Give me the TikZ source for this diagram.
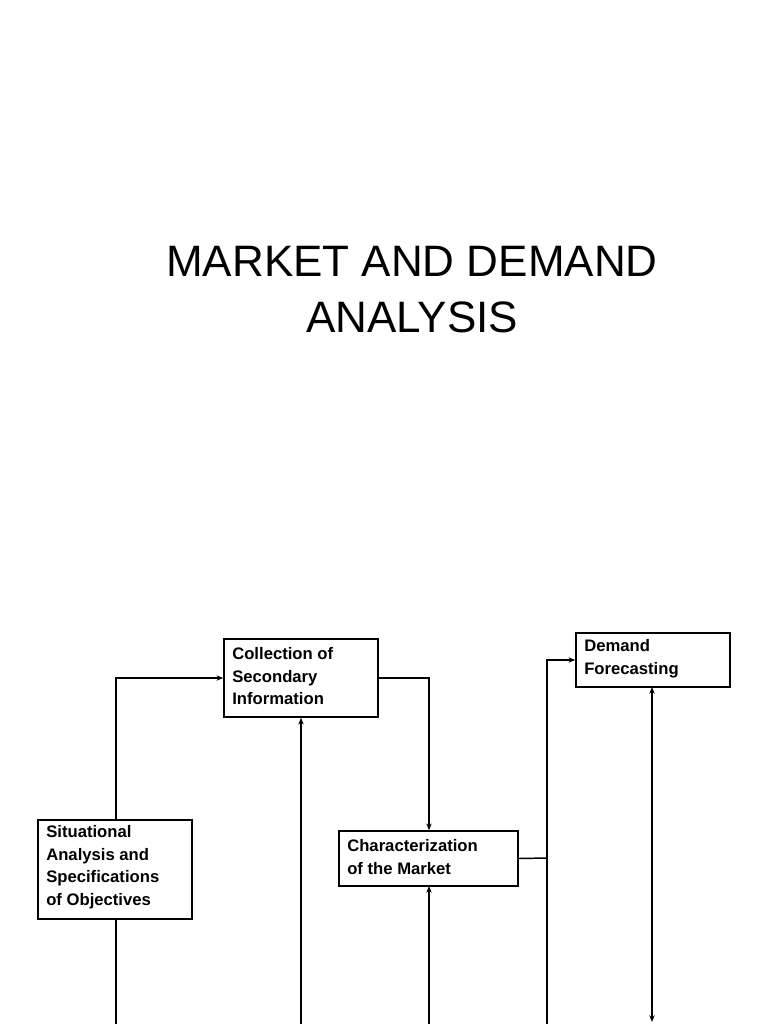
\documentclass[tikz,border=0pt]{standalone}
\usepackage{fontspec}
\setmainfont{Liberation Sans}
\usetikzlibrary{arrows.meta}
\begin{document}
\begin{tikzpicture}[x=0.75pt,y=-0.75pt,
  box/.style={draw,line width=1.2pt,inner sep=0pt},
  lbl/.style={anchor=north west,align=left,font=\bfseries\fontsize{12.5}{17}\selectfont,inner sep=0pt},
  con/.style={line width=1.1pt},
  tip/.style={-{Stealth[length=5pt,width=4pt]}}]
\useasboundingbox (0,0) rectangle (768,1024);
\node[align=center,font=\fontsize{33}{42}\selectfont] (title) at (412,290) {MARKET AND DEMAND\\ANALYSIS};
\draw[box] (224,639) rectangle (378,717);
\coordinate (cs) at (301,678); \node[box,minimum width=154*0.75pt,minimum height=78*0.75pt] (coll) at (cs) {};
\node[lbl] at (232,647) {Collection of\\Secondary\\Information};
\node[box,minimum width=154*0.75pt,minimum height=54*0.75pt] (dem) at (653,660) {};
\node[lbl] at (584,639) {Demand\\Forecasting};
\node[box,minimum width=154*0.75pt,minimum height=99*0.75pt] (sit) at (115,869.5) {};
\node[lbl] at (46,825) {Situational\\Analysis and\\Specifications\\of Objectives};
\node[box,minimum width=179*0.75pt,minimum height=55*0.75pt] (char) at (428.5,858.5) {};
\node[lbl] at (347,839) {Characterization\\of the Market};
\coordinate (b1) at (116,1024);
\coordinate (b2) at (301,1024);
\coordinate (b3) at (429,1024);
\coordinate (b4) at (547,1024);
\coordinate (b5) at (652,1024);
\draw[con,tip] (116,820) |- (coll.west);
\draw[con,tip] (coll.east) -| (char.north -| 429,0);
\draw[con] (sit.south -| 116,0) -- (b1);
\draw[con,tip] (b2) -- (coll.south);
\draw[con,tip] (b3) -- (429,886);
\draw[con] (char.east) -- (547,858);
\draw[con,tip] (b4) |- (dem.west);
\draw[con,{Stealth[length=5pt,width=4pt]}-{Stealth[length=5pt,width=4pt]}] (652,687) -- (652,1022);
\end{tikzpicture}
\end{document}
